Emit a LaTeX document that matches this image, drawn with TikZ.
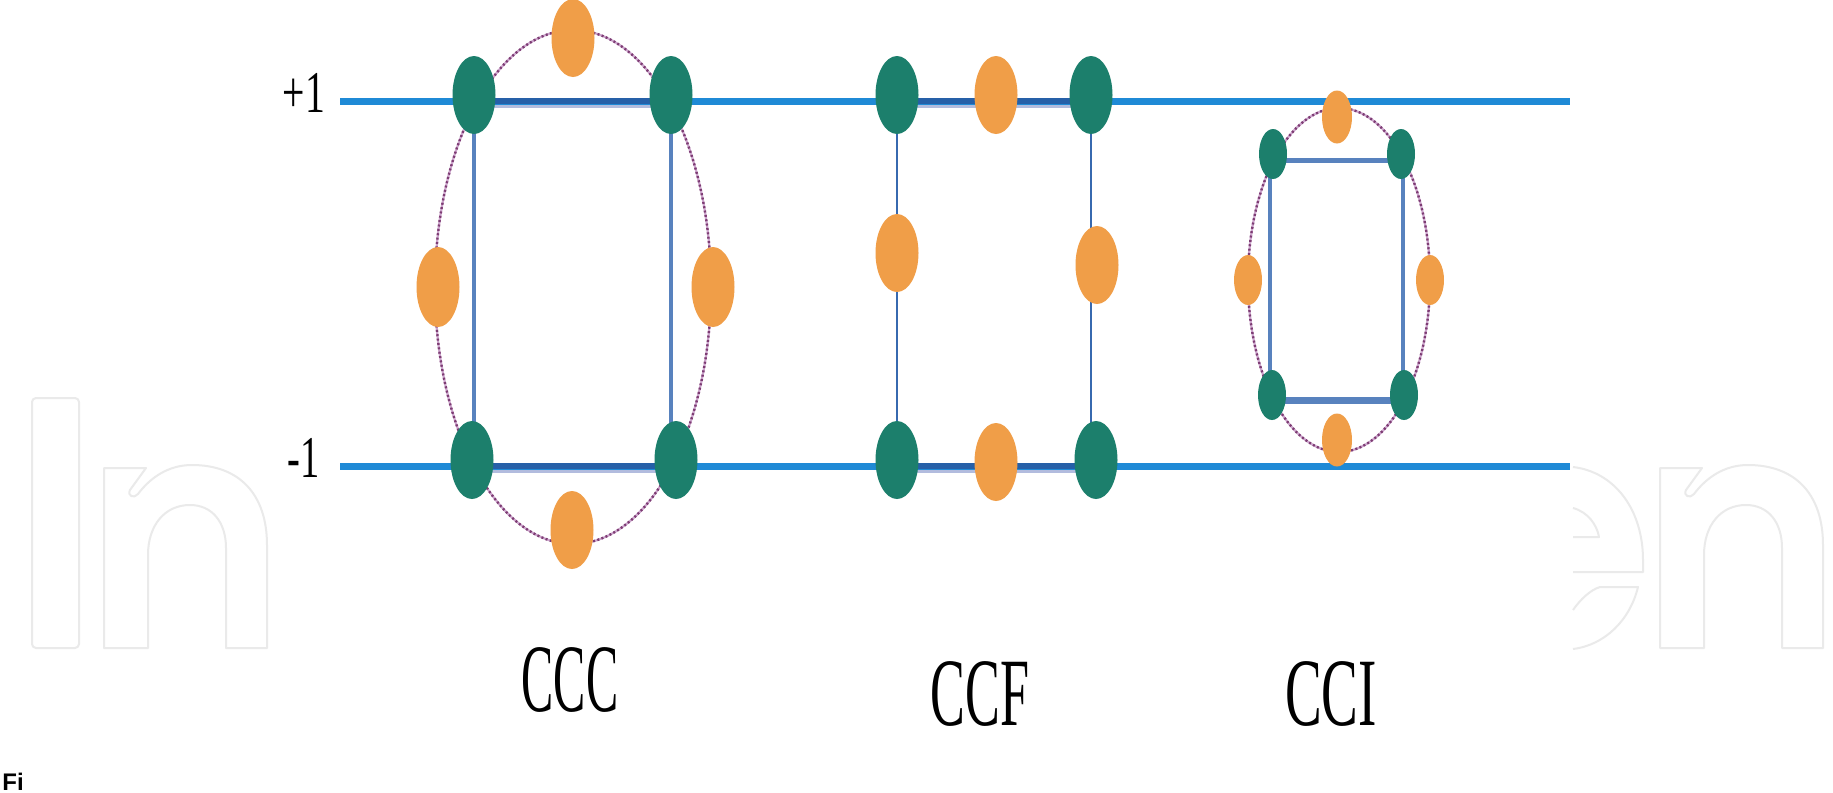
\documentclass[tikz,border=0pt]{standalone}
\usepackage{fontspec}
\setmainfont{Liberation Serif}
\setsansfont{Liberation Sans}
\usetikzlibrary{shapes.geometric}
\pgfdeclarelayer{wm}
\pgfdeclarelayer{bg}
\pgfsetlayers{wm,bg,main}
\definecolor{railblue}{RGB}{31,138,214}
\definecolor{raildk}{RGB}{38,96,168}
\definecolor{railsh}{RGB}{178,188,222}
\definecolor{tgreen}{RGB}{28,127,108}
\definecolor{torange}{RGB}{240,158,72}
\definecolor{dotpurple}{RGB}{125,60,115}
\definecolor{dotpink}{RGB}{205,165,205}
\definecolor{rectblue}{RGB}{88,130,190}
\definecolor{ccfblue}{RGB}{55,105,175}
\definecolor{wmgray}{RGB}{234,234,234}
\begin{document}
\begin{tikzpicture}[x=0.5pt,y=-0.5pt,
  gbig/.style={ellipse, fill=tgreen, inner sep=0pt, minimum width=21.5pt, minimum height=39pt},
  obig/.style={ellipse, fill=torange, inner sep=0pt, minimum width=21.5pt, minimum height=39pt},
  oside/.style={ellipse, fill=torange, inner sep=0pt, minimum width=21.5pt, minimum height=40pt},
  gsmall/.style={ellipse, fill=tgreen, inner sep=0pt, minimum width=14pt, minimum height=25pt},
  osmall/.style={ellipse, fill=torange, inner sep=0pt, minimum width=15pt, minimum height=26.5pt},
  osmallside/.style={ellipse, fill=torange, inner sep=0pt, minimum width=14pt, minimum height=25pt},
  railline/.style={draw=railblue, line width=3.5pt},
  raildark/.style={draw=raildk, line width=2.8pt},
  railshadow/.style={draw=railsh, line width=1.6pt},
  dotbase/.style={draw=dotpink, line width=1.1pt},
  dotring/.style={draw=dotpurple, line width=1.2pt, dash pattern=on 1pt off 1.2pt},
  ccclink/.style={draw=rectblue, line width=1.8pt},
  ccflink/.style={draw=ccfblue, line width=1.2pt},
  ccilink/.style={draw=rectblue, line width=1.6pt},
  wmark/.style={draw=wmgray, line width=1pt, line join=round},
  lab/.style={inner sep=0pt, text=black, font=\fontsize{29.6}{30}\selectfont},
  typelab/.style={inner sep=0pt, text=black, font=\fontsize{48.3}{50}\selectfont},
]
\useasboundingbox (0,0) rectangle (1833,793);

% ---------- nodes ----------
% CCC
\node[obig] (cccT) at (573,38) {};
\node[obig] (cccB) at (572,530) {};
\node[oside] (cccL) at (438,287) {};
\node[oside] (cccR) at (713,287) {};
\node[gbig] (cccTL) at (474,95) {};
\node[gbig] (cccTR) at (671,95) {};
\node[gbig] (cccBL) at (472,460) {};
\node[gbig] (cccBR) at (676,460) {};
% CCF
\node[gbig] (ccfTL) at (897,95) {};
\node[obig] (ccfT) at (996,95) {};
\node[gbig] (ccfTR) at (1091,95) {};
\node[obig] (ccfL) at (897,253) {};
\node[obig] (ccfR) at (1097,265) {};
\node[gbig] (ccfBL) at (897,460) {};
\node[obig] (ccfB) at (996,462) {};
\node[gbig] (ccfBR) at (1096,460) {};
% CCI
\node[osmall] (cciT) at (1337,117) {};
\node[osmall] (cciB) at (1337,440) {};
\node[osmallside] (cciL) at (1248,280) {};
\node[osmallside] (cciR) at (1430,280) {};
\node[gsmall] (cciTL) at (1273,154) {};
\node[gsmall] (cciTR) at (1401,154) {};
\node[gsmall] (cciBL) at (1272,395) {};
\node[gsmall] (cciBR) at (1404,395) {};

% labels
\node[lab] (lp1) at (304,93) {\scalebox{0.67}[1]{+1}};
\node[lab] (lm1) at (304,458) {\scalebox{0.65}[1]{-1}};
\node[typelab] (tccc) at (570,680) {\scalebox{0.5}[1]{CCC}};
\node[typelab] (tccf) at (980,694) {\scalebox{0.54}[1]{CCF}};
\node[typelab] (tcci) at (1331,694) {\scalebox{0.57}[1]{CCI}};

\coordinate (railTL) at (340,101);
\coordinate (railTR) at (1570,101);
\coordinate (railBL) at (340,466);
\coordinate (railBR) at (1570,466);

% ---------- background drawing ----------
\begin{pgfonlayer}{bg}
  \draw[dotbase] (573,287) ellipse [x radius=69pt, y radius=128.5pt];
  \draw[dotring] (573,287) ellipse [x radius=69pt, y radius=128.5pt];
  \draw[dotbase] (1339,280) ellipse [x radius=45.5pt, y radius=86pt];
  \draw[dotring] (1339,280) ellipse [x radius=45.5pt, y radius=86pt];
  \draw[railline] (railTL) -- (railTR);
  \draw[railline] (railBL) -- (railBR);
  % dark segments with light shadow (CCC, CCF)
  \foreach \a/\b/\r in {cccTL/cccTR/railTL, cccBL/cccBR/railBL, ccfTL/ccfTR/railTL, ccfBL/ccfBR/railBL}{
    \draw[railshadow, transform canvas={yshift=-2.6pt}] (\a.center |- \r) -- (\b.center |- \r);
    \draw[raildark] (\a.center |- \r) -- (\b.center |- \r);
  }
  % CCC verticals
  \draw[ccclink] (cccTL.center) -- (cccTL.center |- cccBL.center);
  \draw[ccclink] (cccTR.center) -- (cccTR.center |- cccBR.center);
  % CCF verticals
  \draw[ccflink] (ccfTL.center) -- (ccfTL.center |- ccfBL.center);
  \draw[ccflink] (ccfTR.center) -- (ccfTR.center |- ccfBR.center);
  % CCI rectangle
  \draw[ccilink] ([xshift=-1.5pt]cciTL.center) -- ([xshift=-1.5pt]cciTL.center |- cciBL.center);
  \draw[ccilink] ([xshift=1pt]cciTR.center) -- ([xshift=1pt]cciTR.center |- cciBR.center);
  \draw[draw=rectblue, line width=2.5pt, transform canvas={yshift=-3pt}] (cciTL.center) -- (cciTR.center);
  \draw[draw=rectblue, line width=3.5pt, transform canvas={yshift=-2.5pt}] (cciBL.center) -- (cciBR.center);
\end{pgfonlayer}

% ---------- watermark ----------
\begin{pgfonlayer}{wm}
  \fill[white] (0,0) rectangle (1833,793);
  \draw[wmark, rounded corners=2pt] (32,398) rectangle (79,648);
  \foreach \dx in {0,1556}{
    \begin{scope}[shift={(\dx,0)}]
      \draw[wmark] (104,648) -- (104,468) -- (146,468) -- (130,490)
        .. controls (127,496) and (134,499) .. (138,494)
        .. controls (150,478) and (168,465) .. (192,465)
        .. controls (240,465) and (267,495) .. (267,545) -- (267,648) -- (226,648) -- (226,548)
        .. controls (226,522) and (212,505) .. (190,505)
        .. controls (165,505) and (148,525) .. (148,555) -- (148,648) -- cycle;
    \end{scope}
  }
  \draw[wmark] (1573,467) .. controls (1615,472) and (1643,510) .. (1643,560) -- (1643,572) -- (1573,572);
  \draw[wmark] (1573,508) .. controls (1588,512) and (1597,525) .. (1599,537) -- (1573,537);
  \draw[wmark] (1573,610) .. controls (1580,600) and (1590,590) .. (1600,587) -- (1638,587)
    .. controls (1630,620) and (1605,645) .. (1573,649);
\end{pgfonlayer}

% caption remnant at the bottom edge
\node[anchor=base west, inner sep=0pt, font=\sffamily\bfseries\fontsize{12}{12}\selectfont] (figcap) at (2,790) {Fi};
\end{tikzpicture}
\end{document}
